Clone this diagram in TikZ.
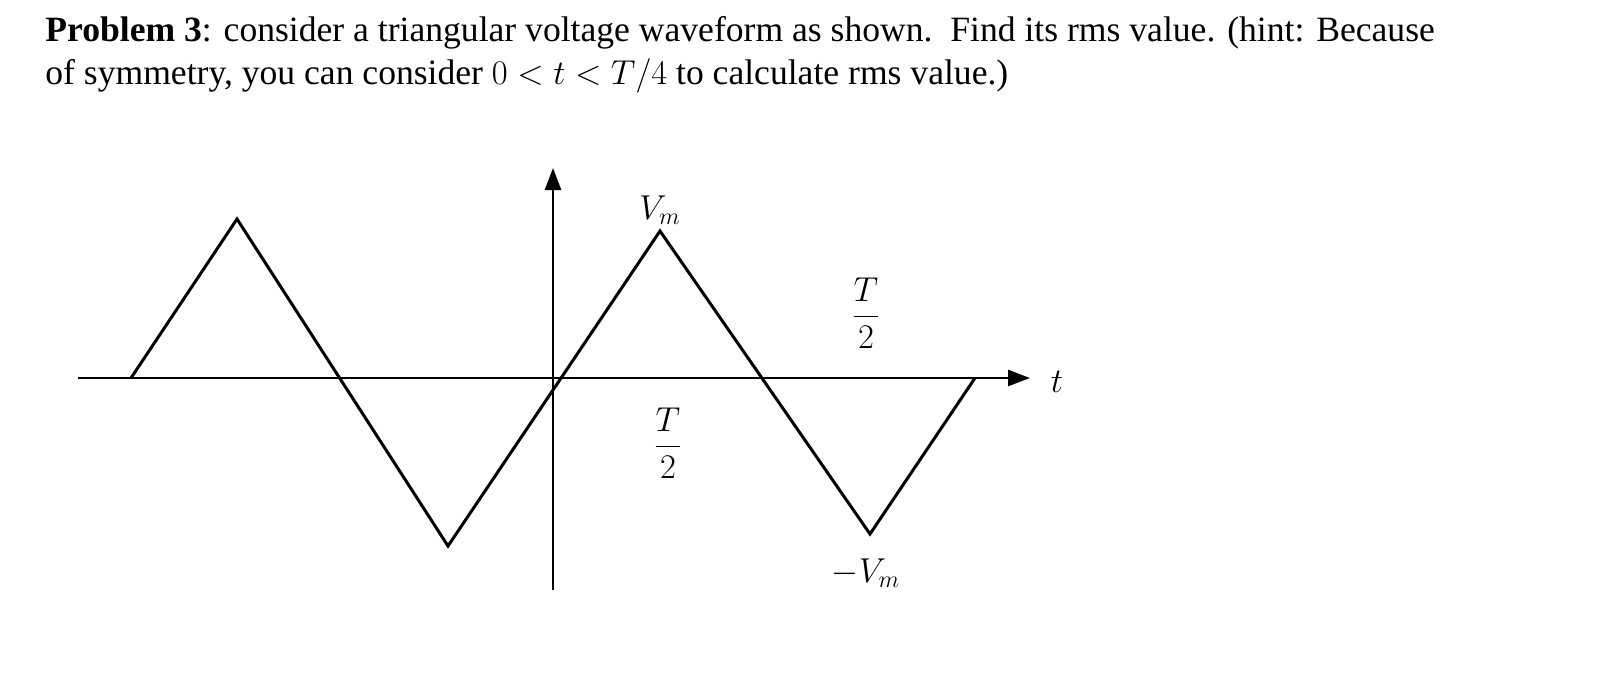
\documentclass[tikz,border=0pt]{standalone}
\usepackage{fontspec}
\setmainfont{Liberation Serif}
\usetikzlibrary{arrows.meta}
\begin{document}
\begin{tikzpicture}[x=0.5pt,y=-0.5pt,
  wave/.style={line width=1.5pt,line join=miter},
  ax/.style={line width=1.3pt,-{Triangle[length=11pt,width=8pt]}},
  lbl/.style={font=\fontsize{17.8}{21}\selectfont,inner sep=0pt},
  mlbl/.style={font=\fontsize{18}{21}\selectfont,inner sep=0pt}]
\node[lbl,anchor=west] (l1) at (45,33) {\textbf{Problem 3}: consider a triangular voltage waveform as shown.\ \ Find its rms value. (hint: Because};
\node[lbl,anchor=west] (l2) at (45,76) {of symmetry, you can consider $0<t<T/4$ to calculate rms value.)};
\coordinate (hs) at (78,378); \coordinate (he) at (1030,378);
\coordinate (vs) at (553,590); \coordinate (ve) at (553,168);
\draw[ax] (hs) -- (he);
\draw[ax] (vs) -- (ve);
\coordinate (p0) at (131,378); \coordinate (p1) at (237,219);
\coordinate (p2) at (448,546); \coordinate (p3) at (660,231);
\coordinate (p4) at (870,534); \coordinate (p5) at (975,378);
\draw[wave] (p0)--(p1)--(p2)--(p3)--(p4)--(p5);
\node[mlbl] (t) at (1057,382) {$t$};
\node[mlbl] (vm) at (660,210) {$V_m$};
\node[mlbl] (mvm) at (866,573) {$-V_m$};
\node[mlbl] (h1) at (668,443) {$\displaystyle\frac{T}{2}$};
\node[mlbl] (h2) at (866,313) {$\displaystyle\frac{T}{2}$};
\pgfresetboundingbox
\useasboundingbox (0,0) rectangle (1606,692);
\end{tikzpicture}
\end{document}
